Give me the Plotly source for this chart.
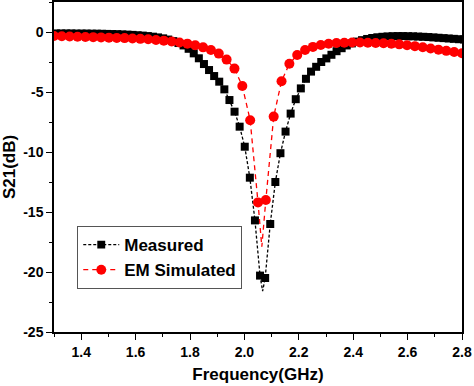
import plotly.graph_objects as go

# ---- data ----
measured_x = [1.3075,1.3263,1.345,1.3638,1.3825,1.4013,1.42,1.4388,1.4575,1.4763,
              1.495,1.5138,1.5325,1.5513,1.57,1.5888,1.6075,1.6263,1.645,1.6638,
              1.6825,1.7013,1.72,1.7388,1.7575,1.7763,1.795,1.8138,1.8325,1.8513,
              1.87,1.8888,1.9075,1.9263,1.945,1.9638,1.9825,2.0013,2.02,2.0388,
              2.0575,2.0763,2.095,2.1138,2.1325,2.1513,2.17,2.1888,2.2075,2.2263,
              2.245,2.2638,2.2825,2.3013,2.32,2.3388,2.3575,2.3763,2.395,2.4138,
              2.4325,2.4513,2.47,2.4888,2.5075,2.5263,2.545,2.5638,2.5825,2.6013,
              2.62,2.6388,2.6575,2.6763,2.695,2.7138,2.7325,2.7513,2.77,2.7888,2.8075]
measured_y = [-0.12,-0.12,-0.12,-0.12,-0.13,-0.13,-0.13,-0.14,-0.14,-0.15,
              -0.16,-0.17,-0.18,-0.2,-0.22,-0.24,-0.27,-0.3,-0.34,-0.39,
              -0.45,-0.53,-0.63,-0.76,-0.92,-1.12,-1.4,-1.78,-2.19,-2.67,
              -3.17,-3.67,-4.14,-4.78,-5.67,-6.64,-7.89,-9.56,-12.14,-15.7,
              -20.3,-20.5,-16.0,-12.5,-10.1,-8.3,-6.8,-5.6,-4.7,-3.9,
              -3.3,-2.9,-2.5,-2.2,-1.9,-1.6,-1.35,-1.12,-0.95,-0.8,
              -0.68,-0.58,-0.5,-0.44,-0.4,-0.37,-0.35,-0.34,-0.34,-0.35,
              -0.36,-0.38,-0.4,-0.42,-0.45,-0.48,-0.51,-0.54,-0.57,-0.6,-0.63]
# line passes through an unmarked minimum point
measured_line_min = (2.067, -21.6)

sim_x = [1.3,1.3288,1.3577,1.3865,1.4154,1.4442,1.4731,1.5019,1.5308,1.5596,
         1.5885,1.6173,1.6462,1.675,1.7038,1.7327,1.7615,1.7904,1.8192,1.8481,
         1.8769,1.9058,1.9346,1.9635,1.9923,2.0212,2.05,2.0788,2.1077,2.1365,
         2.1654,2.1942,2.2231,2.2519,2.2808,2.3096,2.3385,2.3673,2.3962,2.425,
         2.4538,2.4827,2.5115,2.5404,2.5692,2.5981,2.6269,2.6558,2.6846,2.7135,
         2.7423,2.7712,2.8]
sim_y = [-0.33,-0.35,-0.37,-0.39,-0.41,-0.43,-0.45,-0.47,-0.49,-0.51,
         -0.54,-0.57,-0.61,-0.66,-0.72,-0.79,-0.87,-0.97,-1.1,-1.28,
         -1.5,-1.8,-2.3,-3.05,-4.5,-7.35,-14.2,-14.0,-7.05,-4.1,
         -2.65,-1.92,-1.5,-1.24,-1.08,-0.98,-0.92,-0.89,-0.88,-0.88,
         -0.89,-0.91,-0.94,-0.98,-1.03,-1.1,-1.18,-1.27,-1.37,-1.47,
         -1.57,-1.67,-1.77]
sim_line_min = (2.064, -17.9)

x_ticks = [1.4, 1.6, 1.8, 2.0, 2.2, 2.4, 2.6, 2.8]
y_ticks = [0, -5, -10, -15, -20, -25]


def with_min(xs, ys, pt, size):
    pts = sorted(list(zip(xs, ys)) + [pt])
    sizes = [0 if p == pt else size for p in pts]
    return [p[0] for p in pts], [p[1] for p in pts], sizes


FONT = "Arial, Liberation Sans, sans-serif"

mx, my, msz = with_min(measured_x, measured_y, measured_line_min, 8)
sx, sy, ssz = with_min(sim_x, sim_y, sim_line_min, 10)

fig = go.Figure()
fig.add_trace(go.Scatter(
    x=mx, y=my, mode="lines+markers", name="Measured",
    line=dict(color="black", width=1.3, dash="3px,2px"),
    marker=dict(symbol="square", color="black", size=msz, opacity=1, line=dict(width=0)),
))
fig.add_trace(go.Scatter(
    x=sx, y=sy, mode="lines+markers", name="EM Simulated",
    line=dict(color="#ff0000", width=1.3, dash="5px,4px"),
    marker=dict(symbol="circle", color="#ff0000", size=ssz, opacity=1, line=dict(width=0)),
))

axis_common = dict(
    showline=True, linecolor="black", linewidth=1.5, mirror=True,
    ticks="outside", ticklen=6, tickwidth=1.3, tickcolor="black",
    showgrid=False, zeroline=False,
    tickfont=dict(family=FONT, size=14, color="black", weight="bold"),
    title_font=dict(family=FONT, size=17, color="black", weight="bold"),
)

fig.update_xaxes(
    range=[1.3, 2.8], tickvals=x_ticks, ticktext=[f"{v:.1f}" for v in x_ticks],
    minor=dict(ticks="outside", ticklen=3, tickwidth=1.3, tickcolor="black", dtick=0.1, tick0=1.3),
    title_text="Frequency(GHz)", title_standoff=10,
    **axis_common,
)
fig.update_yaxes(
    range=[-25, 2.5], tickvals=y_ticks, ticktext=[str(v) for v in y_ticks],
    minor=dict(ticks="outside", ticklen=3, tickwidth=1.3, tickcolor="black", dtick=2.5, tick0=0),
    title_text="S21(dB)", title_standoff=8,
    **axis_common,
)

fig.update_layout(
    width=474, height=386,
    margin=dict(l=54, r=12, t=2, b=54, autoexpand=False),
    paper_bgcolor="white", plot_bgcolor="white",
    showlegend=True,
    legend=dict(
        x=0.057, y=0.321, xanchor="left", yanchor="top",
        bgcolor="white", bordercolor="#555555", borderwidth=1,
        font=dict(family=FONT, size=17, color="black", weight="bold"),
        itemwidth=36, tracegroupgap=0,
    ),
)

fig.write_html("out.html", config={"displayModeBar": False},
               post_script="document.body.style.margin='0';")
